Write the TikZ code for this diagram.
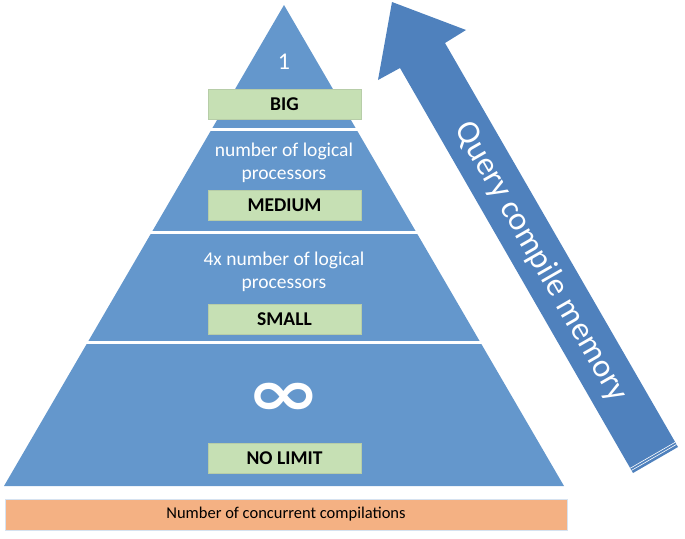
\documentclass[tikz,border=0pt]{standalone}
\usepackage{fontspec}
\setmainfont{Carlito}
\newfontfamily\symfont{DejaVu Sans}
\usetikzlibrary{positioning}

\definecolor{pyrblue}{RGB}{100,151,204}
\definecolor{arrblue}{RGB}{79,129,189}
\definecolor{tagfill}{RGB}{198,224,180}
\definecolor{tagline}{RGB}{183,205,168}
\definecolor{barfill}{RGB}{244,177,131}
\definecolor{barline}{RGB}{214,226,240}

\begin{document}
\begin{tikzpicture}[
  x=1pt, y=-1pt,
  tag/.style={fill=tagfill, draw=tagline, line width=0.8pt,
              minimum width=153pt, minimum height=30pt, inner sep=0pt,
              font=\fontsize{19.5}{19.5}\selectfont\bfseries},
  lbl/.style={text=white, align=center, inner sep=0pt,
              font=\fontsize{19.5}{23}\selectfont},
  gap/.style={white, line width=3.5pt},
]
\useasboundingbox (0,0) rectangle (685,538);

% ---- pyramid ----------------------------------------------------
\fill[pyrblue] (284,5) -- (564,486) -- (4,486) -- cycle;
\foreach \y in {129.5,232.5,342.5}
  \draw[gap] (0,\y) -- (570,\y);

% ---- level texts ------------------------------------------------
\node[lbl, font=\fontsize{24}{24}\selectfont] (one) at (284,62) {1};
\node[lbl] (cpu)  at (284,162.5) {number of logical\\processors};
\node[lbl] (cpu4) at (284,272)   {4x number of logical\\processors};
\node[lbl, font=\symfont\bfseries\fontsize{64}{64}\selectfont, xscale=1.4]
  (inf) at (284,399) {∞};

% ---- gateway tags -----------------------------------------------
\node[tag] (big)    at (284.5,104)   {BIG};
\node[tag] (medium) at (284.5,205.5) {MEDIUM};
\node[tag] (small)  at (284.5,319)   {SMALL};
\node[tag] (nolim)  at (284.5,458.5) {NO LIMIT};

% ---- bottom bar -------------------------------------------------
\node[fill=barfill, draw=barline, line width=0.8pt,
      minimum width=562pt, minimum height=31pt, inner sep=0pt,
      font=\fontsize{16.5}{16.5}\selectfont] (conc) at (286,514.5)
  {Number of concurrent compilations};

% ---- memory arrow -----------------------------------------------
\fill[arrblue] (392,2) -- (466,30) -- (445,43) -- (678,447)
  -- (633,473) -- (400,68) -- (378,80) -- cycle;
\foreach \d in {3,5.5}
  \draw[white, line width=0.6pt] (678-0.5*\d,447-0.87*\d) -- (633-0.5*\d,473-0.87*\d);
\node[lbl, font=\fontsize{33}{33}\selectfont, rotate=-60.1] (mem) at (541,262)
  {Query compile memory};

\end{tikzpicture}
\end{document}
